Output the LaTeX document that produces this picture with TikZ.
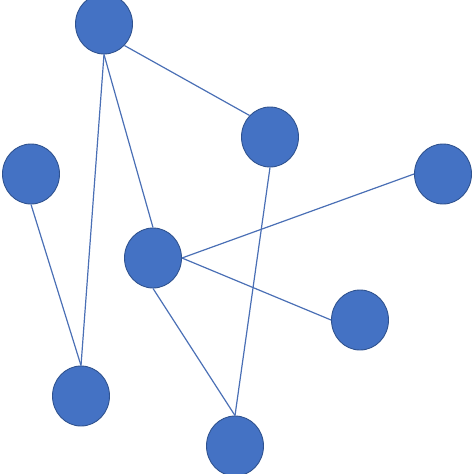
\documentclass[tikz,border=0pt]{standalone}
\usetikzlibrary{shapes.geometric}
\definecolor{nodefill}{HTML}{4472C4}
\definecolor{nodeline}{HTML}{2F528F}
\definecolor{edgecol}{HTML}{4A6FB5}
\tikzset{
  dot/.style={ellipse, fill=nodefill, draw=nodeline, line width=0.9pt,
    minimum width=57pt, minimum height=60pt, inner sep=0pt},
  edge/.style={draw=edgecol, line width=1.2pt}
}
\begin{document}
\begin{tikzpicture}[x=1pt,y=-1pt]
\useasboundingbox (0,0) rectangle (474,474);
\node[dot] (n1) at (104,24) {};
\node[dot] (n2) at (270,137) {};
\node[dot] (n3) at (31,174) {};
\node[dot] (n4) at (443,174) {};
\node[dot] (n5) at (153,258) {};
\node[dot] (n6) at (360,320) {};
\node[dot] (n7) at (81,396) {};
\node[dot] (n8) at (235,446) {};
\draw[edge] (n1.south east) -- (n2.north west);
\draw[edge] (n1.south) -- (n7.north);
\draw[edge] (n1.south) -- (n5.north);
\draw[edge] (n3.south) -- (n7.north);
\draw[edge] (n2.south) -- (n8.north);
\draw[edge] (n5.east) -- (n4.west);
\draw[edge] (n5.east) -- (n6.west);
\draw[edge] (n5.south) -- (n8.north);
\end{tikzpicture}
\end{document}
